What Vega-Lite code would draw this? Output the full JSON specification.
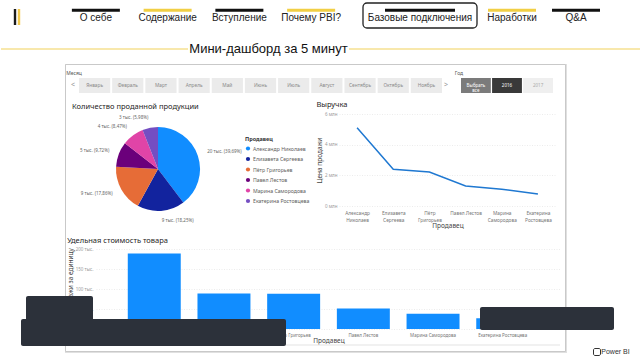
{
  "$schema": "https://vega.github.io/schema/vega-lite/v6.json",
  "background": "white",
  "padding": 0,
  "config": {"view": {"stroke": null}, "font": "Noto Sans"},
  "resolve": {"scale": {"color": "independent", "fill": "independent", "x": "independent", "y": "independent", "opacity": "independent", "size": "independent", "theta": "independent"}, "legend": {"color": "independent", "fill": "independent"}},
  "datasets": {
    "sales": [
      {"seller": "Александр Николаев", "qty": 20.0, "qtyLabel": "20 тыс. (39,69%)", "revenue": 5.1, "unitPrice": 189},
      {"seller": "Елизавета Сергеева", "qty": 9.2, "qtyLabel": "9 тыс. (18,25%)", "revenue": 2.4, "unitPrice": 89},
      {"seller": "Пётр Григорьев", "qty": 9.0, "qtyLabel": "9 тыс. (17,86%)", "revenue": 2.22, "unitPrice": 88},
      {"seller": "Павел Лестов", "qty": 4.9, "qtyLabel": "5 тыс. (9,72%)", "revenue": 1.3, "unitPrice": 51},
      {"seller": "Марина Самородова", "qty": 4.27, "qtyLabel": "4 тыс. (8,47%)", "revenue": 1.1, "unitPrice": 38},
      {"seller": "Екатерина Ростовцева", "qty": 3.01, "qtyLabel": "3 тыс. (5,98%)", "revenue": 0.78, "unitPrice": 27}
    ],
    "tabs": [
      {"tab": "О себе", "group": "A", "active": false},
      {"tab": "Содержание", "group": "B", "active": false},
      {"tab": "Вступление", "group": "A", "active": false},
      {"tab": "Почему PBI?", "group": "B", "active": false},
      {"tab": "Базовые подключения", "group": "A", "active": true},
      {"tab": "Наработки", "group": "B", "active": false},
      {"tab": "Q&A", "group": "A", "active": false}
    ],
    "months": [
      {"month": "Январь"}, {"month": "Февраль"}, {"month": "Март"}, {"month": "Апрель"},
      {"month": "Май"}, {"month": "Июнь"}, {"month": "Июль"}, {"month": "Август"},
      {"month": "Сентябрь"}, {"month": "Октябрь"}, {"month": "Ноябрь"}
    ],
    "years": [
      {"option": "Выбрать все", "lines": ["Выбрать", "все"], "state": "all"},
      {"option": "2016", "lines": ["2016"], "state": "selected"},
      {"option": "2017", "lines": ["2017"], "state": "off"}
    ]
  },
  "spacing": 0,
  "bounds": "flush",
  "hconcat": [
    {"vconcat": [{"width": 1, "height": 9, "data": {"values": []}, "mark": "point"},
      {"hconcat": [{"width": 13, "height": 1, "data": {"values": []}, "mark": "point"},
        {"width": 8, "height": 16, "data": {"values": [{"part": "тёмная"}, {"part": "жёлтая"}]}, "mark": "rect",
         "encoding": {
           "x": {"field": "part", "type": "nominal", "sort": null, "axis": null, "scale": {"type": "band", "paddingInner": 0.4, "paddingOuter": 0.2}},
           "color": {"field": "part", "type": "nominal", "legend": null, "scale": {"domain": ["тёмная", "жёлтая"], "range": ["#1a1a1a", "#f2c94c"]}}
         }}
      ], "spacing": 0, "bounds": "flush"}
    ], "spacing": 0, "bounds": "flush"},

    {"vconcat": [{"width": 1, "height": 3, "data": {"values": []}, "mark": "point"},
      {"hconcat": [{"width": 60, "height": 1, "data": {"values": []}, "mark": "point"},
        {"width": 287, "height": 25, "data": {"name": "tabs"},
         "transform": [{"filter": {"field": "tab", "oneOf": ["О себе", "Содержание", "Вступление", "Почему PBI?"]}}],
         "encoding": {"x": {"field": "tab", "type": "nominal", "sort": null, "axis": null, "scale": {"type": "band", "paddingInner": 0, "paddingOuter": 0}}},
         "layer": [
           {"mark": {"type": "tick", "orient": "horizontal", "thickness": 3, "opacity": 1},
            "encoding": {
              "y": {"datum": "bar", "type": "nominal", "axis": null, "scale": {"type": "point", "domain": ["bar", "label"], "padding": 1.1667, "align": 0.4286}},
              "size": {"value": 48},
              "color": {"field": "group", "type": "nominal", "legend": null, "scale": {"domain": ["A", "B"], "range": ["#111111", "#f1cf45"]}}
            }},
           {"mark": {"type": "text", "font": "Liberation Sans", "fontSize": 10, "color": "#222222"},
            "encoding": {
              "y": {"datum": "label", "type": "nominal", "axis": null, "scale": {"type": "point", "domain": ["bar", "label"], "padding": 1.1667, "align": 0.4286}},
              "text": {"field": "tab", "type": "nominal"}
            }}
         ]}
      ], "spacing": 0, "bounds": "flush"}
    ], "spacing": 0, "bounds": "flush"},

    {"vconcat": [{"width": 1, "height": 3, "data": {"values": []}, "mark": "point"},
      {"hconcat": [{"width": 363, "height": 1, "data": {"values": []}, "mark": "point"},
        {"width": 114, "height": 25, "data": {"name": "tabs"},
         "transform": [{"filter": "datum.active"}],
         "encoding": {"x": {"field": "tab", "type": "nominal", "sort": null, "axis": null, "scale": {"type": "band", "paddingInner": 0, "paddingOuter": 0}}},
         "layer": [
           {"mark": {"type": "rect", "fill": "transparent", "stroke": "#222222", "strokeWidth": 1.3, "cornerRadius": 4}},
           {"mark": {"type": "tick", "orient": "horizontal", "thickness": 3, "opacity": 1},
            "encoding": {
              "y": {"datum": "bar", "type": "nominal", "axis": null, "scale": {"type": "point", "domain": ["bar", "label"], "padding": 1.1667, "align": 0.4286}},
              "size": {"value": 70},
              "color": {"field": "group", "type": "nominal", "legend": null, "scale": {"domain": ["A", "B"], "range": ["#111111", "#f1cf45"]}}
            }},
           {"mark": {"type": "text", "font": "Liberation Sans", "fontSize": 10, "color": "#222222"},
            "encoding": {
              "y": {"datum": "label", "type": "nominal", "axis": null, "scale": {"type": "point", "domain": ["bar", "label"], "padding": 1.1667, "align": 0.4286}},
              "text": {"field": "tab", "type": "nominal"}
            }}
         ]}
      ], "spacing": 0, "bounds": "flush"}
    ], "spacing": 0, "bounds": "flush"},

    {"vconcat": [{"width": 1, "height": 3, "data": {"values": []}, "mark": "point"},
      {"hconcat": [{"width": 480, "height": 1, "data": {"values": []}, "mark": "point"},
        {"width": 128, "height": 25, "data": {"name": "tabs"},
         "transform": [{"filter": {"field": "tab", "oneOf": ["Наработки", "Q&A"]}}],
         "encoding": {"x": {"field": "tab", "type": "nominal", "sort": null, "axis": null, "scale": {"type": "band", "paddingInner": 0, "paddingOuter": 0}}},
         "layer": [
           {"mark": {"type": "tick", "orient": "horizontal", "thickness": 3, "opacity": 1},
            "encoding": {
              "y": {"datum": "bar", "type": "nominal", "axis": null, "scale": {"type": "point", "domain": ["bar", "label"], "padding": 1.1667, "align": 0.4286}},
              "size": {"value": 48},
              "color": {"field": "group", "type": "nominal", "legend": null, "scale": {"domain": ["A", "B"], "range": ["#111111", "#f1cf45"]}}
            }},
           {"mark": {"type": "text", "font": "Liberation Sans", "fontSize": 10, "color": "#222222"},
            "encoding": {
              "y": {"datum": "label", "type": "nominal", "axis": null, "scale": {"type": "point", "domain": ["bar", "label"], "padding": 1.1667, "align": 0.4286}},
              "text": {"field": "tab", "type": "nominal"}
            }}
         ]}
      ], "spacing": 0, "bounds": "flush"}
    ], "spacing": 0, "bounds": "flush"},

    {"vconcat": [{"width": 1, "height": 48, "data": {"values": []}, "mark": "point"},
      {"hconcat": [{"width": 1, "height": 1, "data": {"values": []}, "mark": "point"},
        {"width": 187, "height": 2, "data": {"values": [{}]}, "mark": {"type": "rule", "color": "#f1d25a", "strokeWidth": 1.2},
         "encoding": {"y": {"datum": 0, "type": "quantitative", "scale": {"domain": [-1, 1]}, "axis": null}}}
      ], "spacing": 0, "bounds": "flush"}
    ], "spacing": 0, "bounds": "flush"},

    {"vconcat": [{"width": 1, "height": 40, "data": {"values": []}, "mark": "point"},
      {"hconcat": [{"width": 188, "height": 1, "data": {"values": []}, "mark": "point"},
        {"width": 161, "height": 18, "data": {"values": [{"title": "Мини-дашборд за 5 минут"}]},
         "mark": {"type": "text", "font": "Liberation Sans", "fontSize": 13, "color": "#111111"},
         "encoding": {"text": {"field": "title", "type": "nominal"}}}
      ], "spacing": 0, "bounds": "flush"}
    ], "spacing": 0, "bounds": "flush"},

    {"vconcat": [{"width": 1, "height": 48, "data": {"values": []}, "mark": "point"},
      {"hconcat": [{"width": 349, "height": 1, "data": {"values": []}, "mark": "point"},
        {"width": 291, "height": 2, "data": {"values": [{}]}, "mark": {"type": "rule", "color": "#f1d25a", "strokeWidth": 1.2},
         "encoding": {"y": {"datum": 0, "type": "quantitative", "scale": {"domain": [-1, 1]}, "axis": null}}}
      ], "spacing": 0, "bounds": "flush"}
    ], "spacing": 0, "bounds": "flush"},

    {"vconcat": [{"width": 1, "height": 65, "data": {"values": []}, "mark": "point"},
      {"hconcat": [{"width": 66, "height": 1, "data": {"values": []}, "mark": "point"},
        {"width": 500, "height": 287, "data": {"values": []}, "mark": "point", "view": {"stroke": "#e0e0e0", "strokeWidth": 2}}
      ], "spacing": 0, "bounds": "flush"}
    ], "spacing": 0, "bounds": "flush"},

    {"vconcat": [{"width": 1, "height": 64, "data": {"values": []}, "mark": "point"},
      {"hconcat": [{"width": 65, "height": 1, "data": {"values": []}, "mark": "point"},
        {"width": 500, "height": 287, "data": {"values": []}, "mark": "point", "view": {"stroke": "#c9c9c9", "strokeWidth": 1, "fill": "white"}}
      ], "spacing": 0, "bounds": "flush"}
    ], "spacing": 0, "bounds": "flush"},

    {"vconcat": [{"width": 1, "height": 70, "data": {"values": []}, "mark": "point"},
      {"hconcat": [{"width": 68, "height": 1, "data": {"values": []}, "mark": "point"},
        {"width": 12, "height": 6, "data": {"values": [{"t": "Месяц"}]}, "mark": {"type": "text", "fontSize": 5, "color": "#555555"},
         "encoding": {"text": {"field": "t", "type": "nominal"}}}
      ], "spacing": 0, "bounds": "flush"}
    ], "spacing": 0, "bounds": "flush"},

    {"vconcat": [{"width": 1, "height": 80, "data": {"values": []}, "mark": "point"},
      {"hconcat": [{"width": 70, "height": 1, "data": {"values": []}, "mark": "point"},
        {"width": 6, "height": 10, "data": {"values": [{"t": "<"}]}, "mark": {"type": "text", "fontSize": 7, "color": "#999999"},
         "encoding": {"text": {"field": "t", "type": "nominal"}}}
      ], "spacing": 0, "bounds": "flush"}
    ], "spacing": 0, "bounds": "flush"},

    {"vconcat": [{"width": 1, "height": 78, "data": {"values": []}, "mark": "point"},
      {"hconcat": [{"width": 79, "height": 1, "data": {"values": []}, "mark": "point"},
        {"width": 363, "height": 15, "data": {"name": "months"},
         "encoding": {"x": {"field": "month", "type": "nominal", "sort": null, "axis": null, "scale": {"type": "band", "paddingInner": 0.06, "paddingOuter": 0}}},
         "layer": [
           {"mark": {"type": "rect", "color": "#ebebeb"}},
           {"mark": {"type": "text", "fontSize": 4.8, "color": "#8a8a8a"}, "encoding": {"text": {"field": "month", "type": "nominal"}}}
         ]}
      ], "spacing": 0, "bounds": "flush"}
    ], "spacing": 0, "bounds": "flush"},

    {"vconcat": [{"width": 1, "height": 80, "data": {"values": []}, "mark": "point"},
      {"hconcat": [{"width": 443, "height": 1, "data": {"values": []}, "mark": "point"},
        {"width": 6, "height": 10, "data": {"values": [{"t": ">"}]}, "mark": {"type": "text", "fontSize": 7, "color": "#999999"},
         "encoding": {"text": {"field": "t", "type": "nominal"}}}
      ], "spacing": 0, "bounds": "flush"}
    ], "spacing": 0, "bounds": "flush"},

    {"vconcat": [{"width": 1, "height": 70, "data": {"values": []}, "mark": "point"},
      {"hconcat": [{"width": 455, "height": 1, "data": {"values": []}, "mark": "point"},
        {"width": 8, "height": 6, "data": {"values": [{"t": "Год"}]}, "mark": {"type": "text", "fontSize": 5, "color": "#555555"},
         "encoding": {"text": {"field": "t", "type": "nominal"}}}
      ], "spacing": 0, "bounds": "flush"}
    ], "spacing": 0, "bounds": "flush"},

    {"vconcat": [{"width": 1, "height": 78, "data": {"values": []}, "mark": "point"},
      {"hconcat": [{"width": 461, "height": 1, "data": {"values": []}, "mark": "point"},
        {"width": 92, "height": 15, "data": {"name": "years"},
         "encoding": {"x": {"field": "option", "type": "nominal", "sort": null, "axis": null, "scale": {"type": "band", "paddingInner": 0.04, "paddingOuter": 0}}},
         "layer": [
           {"mark": "rect", "encoding": {"fill": {"field": "state", "type": "nominal", "legend": null, "scale": {"domain": ["all", "selected", "off"], "range": ["#7b7b7b", "#393939", "#efefef"]}}}},
           {"mark": {"type": "text", "fontSize": 4.5, "lineHeight": 5},
            "encoding": {"text": {"field": "lines", "type": "nominal"},
              "color": {"field": "state", "type": "nominal", "legend": null, "scale": {"domain": ["all", "selected", "off"], "range": ["#ffffff", "#ffffff", "#aaaaaa"]}}}}
         ]}
      ], "spacing": 0, "bounds": "flush"}
    ], "spacing": 0, "bounds": "flush"},

    {"vconcat": [{"width": 1, "height": 127, "data": {"values": []}, "mark": "point"},
      {"hconcat": [{"width": 116, "height": 1, "data": {"values": []}, "mark": "point"},
        {"width": 84, "height": 84, "data": {"name": "sales"},
         "title": {"text": "Количество проданной продукции", "anchor": "start", "frame": "bounds", "fontSize": 7.5, "fontWeight": "normal", "color": "#252423", "offset": 4, "dx": -8},
         "layer": [
           {"mark": {"type": "arc", "outerRadius": 42},
            "encoding": {
              "theta": {"field": "qty", "type": "quantitative", "stack": true},
              "order": {"field": "qty", "sort": "descending"},
              "color": {"field": "seller", "type": "nominal", "title": "Продавец",
                "scale": {"domain": ["Александр Николаев", "Елизавета Сергеева", "Пётр Григорьев", "Павел Лестов", "Марина Самородова", "Екатерина Ростовцева"],
                          "range": ["#118DFF", "#12239E", "#E66C37", "#6B007B", "#E044A7", "#744EC2"]},
                "legend": {"orient": "none", "legendX": 245, "legendY": 137, "titleFontSize": 5.5, "titleFontWeight": "bold", "titleColor": "#333333",
                  "labelFontSize": 5.2, "labelColor": "#605e5c", "symbolType": "circle", "symbolSize": 18, "rowPadding": 3.5, "titlePadding": 3, "labelOffset": 2, "padding": 0}}
            }},
           {"mark": {"type": "text", "radius": 52, "align": "left", "fontSize": 4.5, "color": "#666666"},
            "encoding": {
              "theta": {"field": "qty", "type": "quantitative", "stack": true},
              "order": {"field": "qty", "sort": "descending"},
              "text": {"field": "qtyLabel", "type": "nominal"},
              "opacity": {"condition": {"test": "datum.seller == 'Александр Николаев' || datum.seller == 'Елизавета Сергеева'", "value": 1}, "value": 0}
            }},
           {"mark": {"type": "text", "radius": 52, "align": "right", "fontSize": 4.5, "color": "#666666"},
            "encoding": {
              "theta": {"field": "qty", "type": "quantitative", "stack": true},
              "order": {"field": "qty", "sort": "descending"},
              "text": {"field": "qtyLabel", "type": "nominal"},
              "opacity": {"condition": {"test": "datum.seller == 'Александр Николаев' || datum.seller == 'Елизавета Сергеева'", "value": 0}, "value": 1}
            }}
         ]}
      ], "spacing": 0, "bounds": "flush"}
    ], "spacing": 0, "bounds": "flush"},

    {"vconcat": [{"width": 1, "height": 114, "data": {"values": []}, "mark": "point"},
      {"hconcat": [{"width": 339, "height": 1, "data": {"values": []}, "mark": "point"},
        {"width": 217, "height": 92, "data": {"name": "sales"},
         "title": {"text": "Выручка", "anchor": "start", "frame": "bounds", "fontSize": 7.5, "fontWeight": "normal", "color": "#252423", "offset": 3},
         "mark": {"type": "line", "color": "#1f78d1", "strokeWidth": 1.5},
         "encoding": {
           "x": {"field": "seller", "type": "nominal", "sort": null, "scale": {"type": "point", "padding": 0.5},
             "axis": {"title": "Продавец", "labelAngle": 0, "labelExpr": "length(datum.label) > 13 ? split(datum.label, ' ') : datum.label",
               "labelFontSize": 4.8, "labelColor": "#777777", "labelPadding": 4, "labelLineHeight": 7, "ticks": false, "domain": false,
               "titleFontSize": 6.5, "titleColor": "#444444", "titleFontWeight": "normal", "titlePadding": 1}},
           "y": {"field": "revenue", "type": "quantitative", "scale": {"domain": [0, 6]},
             "axis": {"values": [0, 2, 4, 6], "labelExpr": "datum.value + ' млн'", "labelFontSize": 4.5, "labelColor": "#999999", "labelPadding": 2,
               "ticks": false, "domain": false, "gridColor": "#ececec", "gridDash": [1, 1.5],
               "title": "Цена продажи", "titleFontSize": 6.5, "titleColor": "#444444", "titleFontWeight": "normal", "titlePadding": 2}}
         }}
      ], "spacing": 0, "bounds": "flush"}
    ], "spacing": 0, "bounds": "flush"},

    {"vconcat": [{"width": 1, "height": 249, "data": {"values": []}, "mark": "point"},
      {"hconcat": [{"width": 96, "height": 1, "data": {"values": []}, "mark": "point"},
        {"width": 465, "height": 80, "data": {"name": "sales"},
         "title": {"text": "Удельная стоимость товара", "anchor": "start", "frame": "bounds", "fontSize": 7.5, "fontWeight": "normal", "color": "#252423", "offset": 2},
         "mark": {"type": "bar", "color": "#118DFF"},
         "encoding": {
           "x": {"field": "seller", "type": "nominal", "sort": null, "scale": {"type": "band", "paddingInner": 0.24, "paddingOuter": 0.456},
             "axis": {"title": "Продавец", "labelAngle": 0, "labelFontSize": 4.5, "labelColor": "#777777", "labelPadding": 3, "ticks": false, "domain": false,
               "titleFontSize": 6.5, "titleColor": "#444444", "titleFontWeight": "normal", "titlePadding": 1}},
           "y": {"field": "unitPrice", "type": "quantitative", "scale": {"domain": [0, 200]},
             "axis": {"values": [0, 50, 100, 150, 200], "labelExpr": "datum.value + ' тыс.'", "labelFontSize": 4.5, "labelColor": "#999999", "labelPadding": 3,
               "ticks": false, "domain": false, "gridColor": "#ececec", "gridDash": [1, 1.5],
               "title": "Цена продажи за единицу", "titleFontSize": 6.5, "titleColor": "#444444", "titleFontWeight": "normal", "titlePadding": 2}}
         }}
      ], "spacing": 0, "bounds": "flush"}
    ], "spacing": 0, "bounds": "flush"},

    {"vconcat": [{"width": 1, "height": 344, "data": {"values": []}, "mark": "point"},
      {"hconcat": [{"width": 67, "height": 1, "data": {"values": []}, "mark": "point"},
        {"width": 493, "height": 2, "data": {"values": [{}]}, "mark": {"type": "rule", "color": "#e3e3e3", "strokeWidth": 1},
         "encoding": {"y": {"datum": 0, "type": "quantitative", "scale": {"domain": [-1, 1]}, "axis": null}}}
      ], "spacing": 0, "bounds": "flush"}
    ], "spacing": 0, "bounds": "flush"},

    {"vconcat": [{"width": 1, "height": 296, "data": {"values": []}, "mark": "point"},
      {"hconcat": [{"width": 26, "height": 1, "data": {"values": []}, "mark": "point"},
        {"width": 67, "height": 26, "data": {"values": []}, "mark": "point", "view": {"fill": "#2c313a", "cornerRadius": 2}}
      ], "spacing": 0, "bounds": "flush"}
    ], "spacing": 0, "bounds": "flush"},

    {"vconcat": [{"width": 1, "height": 319, "data": {"values": []}, "mark": "point"},
      {"hconcat": [{"width": 21, "height": 1, "data": {"values": []}, "mark": "point"},
        {"width": 265, "height": 27, "data": {"values": []}, "mark": "point", "view": {"fill": "#2c313a", "cornerRadius": 2}}
      ], "spacing": 0, "bounds": "flush"}
    ], "spacing": 0, "bounds": "flush"},

    {"vconcat": [{"width": 1, "height": 307, "data": {"values": []}, "mark": "point"},
      {"hconcat": [{"width": 480, "height": 1, "data": {"values": []}, "mark": "point"},
        {"width": 134, "height": 23, "data": {"values": []}, "mark": "point", "view": {"fill": "#2c313a", "cornerRadius": 2}}
      ], "spacing": 0, "bounds": "flush"}
    ], "spacing": 0, "bounds": "flush"},

    {"vconcat": [{"width": 1, "height": 348, "data": {"values": []}, "mark": "point"},
      {"hconcat": [{"width": 593, "height": 1, "data": {"values": []}, "mark": "point"},
        {"width": 7, "height": 7, "data": {"values": []}, "mark": "point", "view": {"stroke": "#333333", "strokeWidth": 1, "cornerRadius": 1.5}}
      ], "spacing": 0, "bounds": "flush"}
    ], "spacing": 0, "bounds": "flush"},

    {"vconcat": [{"width": 1, "height": 348, "data": {"values": []}, "mark": "point"},
      {"hconcat": [{"width": 603, "height": 1, "data": {"values": []}, "mark": "point"},
        {"width": 25, "height": 8, "data": {"values": [{"t": "Power BI"}]}, "mark": {"type": "text", "font": "Liberation Sans", "fontSize": 7, "color": "#333333"},
         "encoding": {"text": {"field": "t", "type": "nominal"}}}
      ], "spacing": 0, "bounds": "flush"}
    ], "spacing": 0, "bounds": "flush"}
  ]
}
